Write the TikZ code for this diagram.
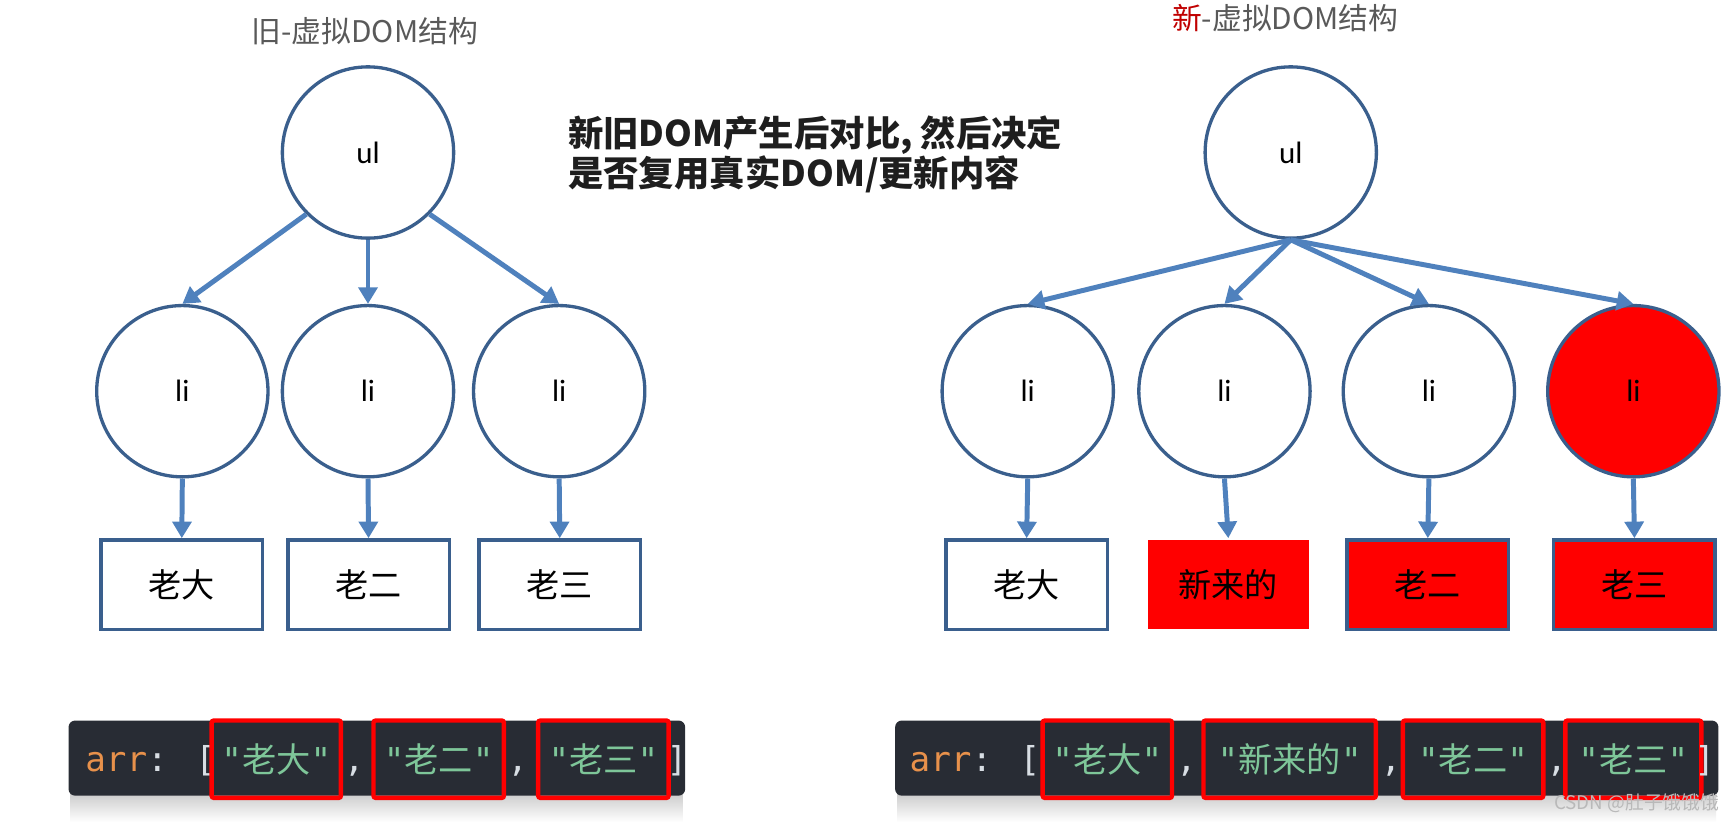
\documentclass[tikz,border=0pt]{standalone}
\usepackage{fontspec}
\newfontfamily\cjk{Noto Sans CJK SC}
\newfontfamily\carl{Carlito}
\newfontfamily\codef{DejaVu Sans Mono}
\usetikzlibrary{arrows.meta,shapes.geometric}
\definecolor{edgeblue}{HTML}{4F81BD}
\definecolor{nodeblue}{HTML}{3A5F8D}
\definecolor{codebg}{HTML}{282C34}
\definecolor{codeorange}{HTML}{E8914B}
\definecolor{codegreen}{HTML}{7EC699}
\definecolor{codelight}{HTML}{D8DEE4}
\definecolor{titlegray}{HTML}{595959}
\definecolor{darkred}{HTML}{C00000}
\definecolor{boldblack}{HTML}{1E1E1E}
\begin{document}
\begin{tikzpicture}[x=1pt,y=-1pt,
  treecircle/.style={circle,draw=nodeblue,line width=3pt,minimum size=155pt,inner sep=0pt,font=\carl\fontsize{28}{30}\selectfont},
  leafbox/.style={rectangle,draw=nodeblue,line width=3pt,minimum width=146pt,minimum height=81pt,inner sep=0pt,font=\cjk\fontsize{30}{32}\selectfont},
  redbox/.style={leafbox,fill=red},
  arrowline/.style={draw=edgeblue,line width=4.5pt,-{Triangle[length=15pt,width=17pt]}},
  codebar/.style={fill=codebg,rounded corners=6pt},
  reflect/.style={top color=gray!40,bottom color=white,draw=none},
  codetext/.style={font=\codef\fontsize{31}{33}\selectfont,text=codelight,inner sep=0pt,anchor=base west},
  strbox/.style={draw=red,line width=4pt,rounded corners=2pt,minimum height=70pt,inner sep=0pt,text=codegreen,font=\codef\fontsize{31}{33}\selectfont},
  titletext/.style={font=\cjk\fontsize{27}{30}\selectfont,text=titlegray,inner sep=0pt}
]
\useasboundingbox (0,0) rectangle (1570,746);

% titles
\node[titletext] (tl) at (330,28) {旧-虚拟DOM结构};
\node[titletext] (tr) at (1163,16) {\textcolor{darkred}{新}-虚拟DOM结构};
\node[anchor=west,align=left,inner sep=0pt,text=boldblack,font=\cjk\bfseries\fontsize{32}{36}\selectfont] (note) at (514,140) {新旧DOM产生后对比, 然后决定\\是否复用真实DOM/更新内容};

% left tree
\node[treecircle] (ulA) at (333,138) {ul};
\node[treecircle] (liA1) at (165,354) {li};
\node[treecircle] (liA2) at (333,354) {li};
\node[treecircle] (liA3) at (506,354) {li};
\node[leafbox] (bA1) at (164.5,529) {老大};
\node[leafbox] (bA2) at (333.5,529) {老二};
\node[leafbox] (bA3) at (506.5,529) {老三};
\draw[arrowline] (ulA.south west) -- (liA1.north);
\draw[arrowline] (ulA.south) -- (liA2.north);
\draw[arrowline] (ulA.south east) -- (liA3.north);
\draw[arrowline] (liA1.south) -- (bA1.north);
\draw[arrowline] (liA2.south) -- (bA2.north);
\draw[arrowline] (liA3.south) -- (bA3.north);

% right tree
\node[treecircle] (ulB) at (1168,138) {ul};
\node[treecircle] (liB1) at (930,354) {li};
\node[treecircle] (liB2) at (1108,354) {li};
\node[treecircle] (liB3) at (1293,354) {li};
\node[treecircle,fill=red] (liB4) at (1478,354) {li};
\node[leafbox] (bB1) at (929,529) {老大};
\node[redbox,draw=none] (bB2) at (1111.5,529) {新来的};
\node[redbox] (bB3) at (1292,529) {老二};
\node[redbox] (bB4) at (1479,529) {老三};
\draw[arrowline] (ulB.south) -- (liB1.north);
\draw[arrowline] (ulB.south) -- (liB2.north);
\draw[arrowline] (ulB.south) -- (liB3.north);
\draw[arrowline] (ulB.south) -- (liB4.north);
\draw[arrowline] (liB1.south) -- (bB1.north);
\draw[arrowline] (liB2.south) -- (bB2.north);
\draw[arrowline] (liB3.south) -- (bB3.north);
\draw[arrowline] (liB4.south) -- (bB4.north);

% left code bar
\shade[reflect] (64,718) rectangle (618,744);
\fill[codebar] (62,652) rectangle (620,720);
\node[codetext] (cA0) at (77,698) {\textcolor{codeorange}{arr}: [};
\node[strbox,minimum width=117pt] (sA1) at (250,687) {"{\cjk 老大}"};
\node[strbox,minimum width=118pt] (sA2) at (397,687) {"{\cjk 老二}"};
\node[strbox,minimum width=118pt] (sA3) at (546,687) {"{\cjk 老三}"};
\node[codetext] (cA1) at (311,698) {,};
\node[codetext] (cA2) at (459,698) {,};
\node[codetext] (cA3) at (603,698) {]};

% right code bar
\shade[reflect] (812,718) rectangle (1553,744);
\fill[codebar] (810,652) rectangle (1555,720);
\node[codetext] (cB0) at (823,698) {\textcolor{codeorange}{arr}: [};
\node[strbox,minimum width=117pt] (sB1) at (1002,687) {"{\cjk 老大}"};
\node[strbox,minimum width=156pt] (sB2) at (1167,687) {"{\cjk 新来的}"};
\node[strbox,minimum width=127pt] (sB3) at (1333,687) {"{\cjk 老二}"};
\node[strbox,minimum width=123pt] (sB4) at (1478,687) {"{\cjk 老三}"};
\node[codetext] (cB1) at (1064,698) {,};
\node[codetext] (cB2) at (1249,698) {,};
\node[codetext] (cB3) at (1399,698) {,};
\node[codetext] (cB4) at (1533,698) {]};

% watermark
\node[anchor=east,inner sep=0pt,text=gray!55,font=\cjk\fontsize{17}{19}\selectfont] (wm) at (1556,727) {CSDN @肚子饿饿饿};
\end{tikzpicture}
\end{document}
